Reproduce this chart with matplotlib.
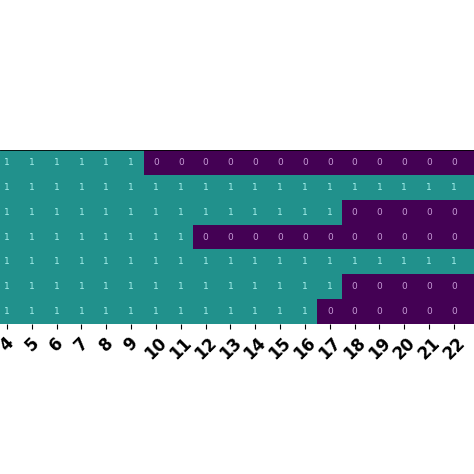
import numpy as np
import matplotlib.pyplot as plt

# visible columns of the heatmap (cropped view)
columns = list(range(3, 24))
# index of the first column that turns 0 in each row (None = stays 1)
first_zero = [10, None, 18, 12, None, 18, 17]

grid = np.array([[0 if (fz is not None and c >= fz) else 1 for c in columns]
                 for fz in first_zero])

fig = plt.figure(figsize=(4.74, 4.74), dpi=100)
ax = fig.add_axes([0, 0.316, 1, 0.368])

x_edges = np.arange(columns[0] - 0.5, columns[-1] + 1.0, 1.0)
y_edges = np.arange(-0.5, len(first_zero) + 0.5, 1.0)
ax.pcolormesh(x_edges, y_edges, grid, cmap='viridis', vmin=0, vmax=2)

for r in range(grid.shape[0]):
    for j, c in enumerate(columns):
        v = grid[r, j]
        ax.text(c, r, str(v), ha='center', va='center', fontsize=6.5,
                color='#a8f0ec' if v else '#c79bd6', clip_on=True)

ax.set_xticks(columns)
ax.set_xticklabels([str(c) for c in columns], rotation=45, fontsize=12,
                   fontweight='heavy')
ax.set_yticks([])
ax.set_xlim(3.718, 22.81)
ax.set_ylim(len(first_zero) - 0.5, -0.5)
for s in ['left', 'right', 'bottom']:
    ax.spines[s].set_visible(False)
ax.spines['top'].set_linewidth(0.6)

fig.savefig('out.png', dpi=100)
